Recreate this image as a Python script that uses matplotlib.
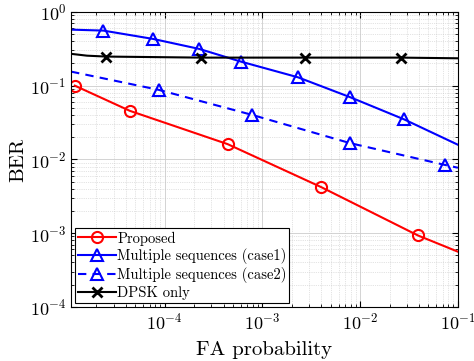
import matplotlib
matplotlib.use("Agg")
import matplotlib.pyplot as plt
import numpy as np

plt.rcParams['font.family'] = 'serif'
plt.rcParams['font.serif'] = ['cmr10', 'DejaVu Serif']
plt.rcParams['mathtext.fontset'] = 'cm'
plt.rcParams['axes.formatter.use_mathtext'] = True

# Data
prop_x = [1.2e-5, 4.4e-5, 4.4e-4, 4.0e-3, 3.9e-2, 1e-1]
prop_y = [0.100, 0.0455, 0.0161, 0.0042, 0.00093, 0.00056]
prop_marks = [0, 1, 2, 3, 4]

case1_x = [1.1e-5, 2.35e-5, 7.6e-5, 2.25e-4, 6.0e-4, 2.3e-3, 7.9e-3, 2.8e-2, 1e-1]
case1_y = [0.575, 0.558, 0.43, 0.315, 0.212, 0.13, 0.0697, 0.035, 0.0158]
case1_marks = [1, 2, 3, 4, 5, 6, 7]

case2_x = [1.1e-5, 8.7e-5, 7.9e-4, 7.9e-3, 7.4e-2, 1e-1]
case2_y = [0.155, 0.0876, 0.040, 0.0166, 0.0084, 0.0077]
case2_marks = [1, 2, 3, 4]

dpsk_x = [1.1e-5, 1.6e-5, 2.5e-5, 2.35e-4, 2.7e-3, 2.6e-2, 1e-1]
dpsk_y = [0.27, 0.255, 0.248, 0.240, 0.240, 0.240, 0.235]
dpsk_marks = [2, 3, 4, 5]

labels = ['Proposed', 'Multiple sequences (case1)',
          'Multiple sequences (case2)', 'DPSK only']

fig = plt.figure(figsize=(4.74, 3.61), dpi=100)
ax = fig.add_axes([0.150, 0.150, 0.816, 0.817])

ax.plot(prop_x, prop_y, '-', color='#ff0000', lw=1.5, marker='o', ms=8,
        mfc='none', mew=1.5, markevery=prop_marks, label=labels[0])
ax.plot(case1_x, case1_y, '-', color='#0000ff', lw=1.5, marker='^', ms=8.5,
        mfc='none', mew=1.5, markevery=case1_marks, label=labels[1])
ax.plot(case2_x, case2_y, '--', color='#0000ff', lw=1.5, marker='^', ms=8.5,
        mfc='none', mew=1.5, markevery=case2_marks, label=labels[2],
        dashes=(4, 3))
ax.plot(dpsk_x, dpsk_y, '-', color='black', lw=1.5, marker='x', ms=6.5,
        mew=2, markevery=dpsk_marks, label=labels[3])

ax.set_xscale('log')
ax.set_yscale('log')
ax.set_xlim(1.1e-5, 1e-1)
ax.set_ylim(1e-4, 1e0)
ax.set_xticks([1e-4, 1e-3, 1e-2, 1e-1])
ax.set_yticks([1e-4, 1e-3, 1e-2, 1e-1, 1e0])

ax.grid(True, which='major', color='#cccccc', lw=0.6, ls='-')
ax.grid(True, which='minor', color='#c8c8c8', lw=0.5, ls=':')
ax.set_axisbelow(True)
ax.tick_params(which='both', direction='in', top=True, right=True, labelsize=13)
ax.tick_params(which='major', length=4)
ax.tick_params(which='minor', length=2)
for s in ax.spines.values():
    s.set_linewidth(0.8)

ax.set_xlabel('FA probability', fontsize=15, labelpad=6)
ax.set_ylabel('BER', fontsize=15, labelpad=2)

leg = ax.legend(loc='lower left', fontsize=10.5, frameon=True, fancybox=False,
                edgecolor='black', framealpha=1, borderpad=0.2,
                labelspacing=0.2, handlelength=2.6, handletextpad=0.1,
                borderaxespad=0.25)
leg.get_frame().set_linewidth(0.8)

fig.savefig('out.png', dpi=100)
